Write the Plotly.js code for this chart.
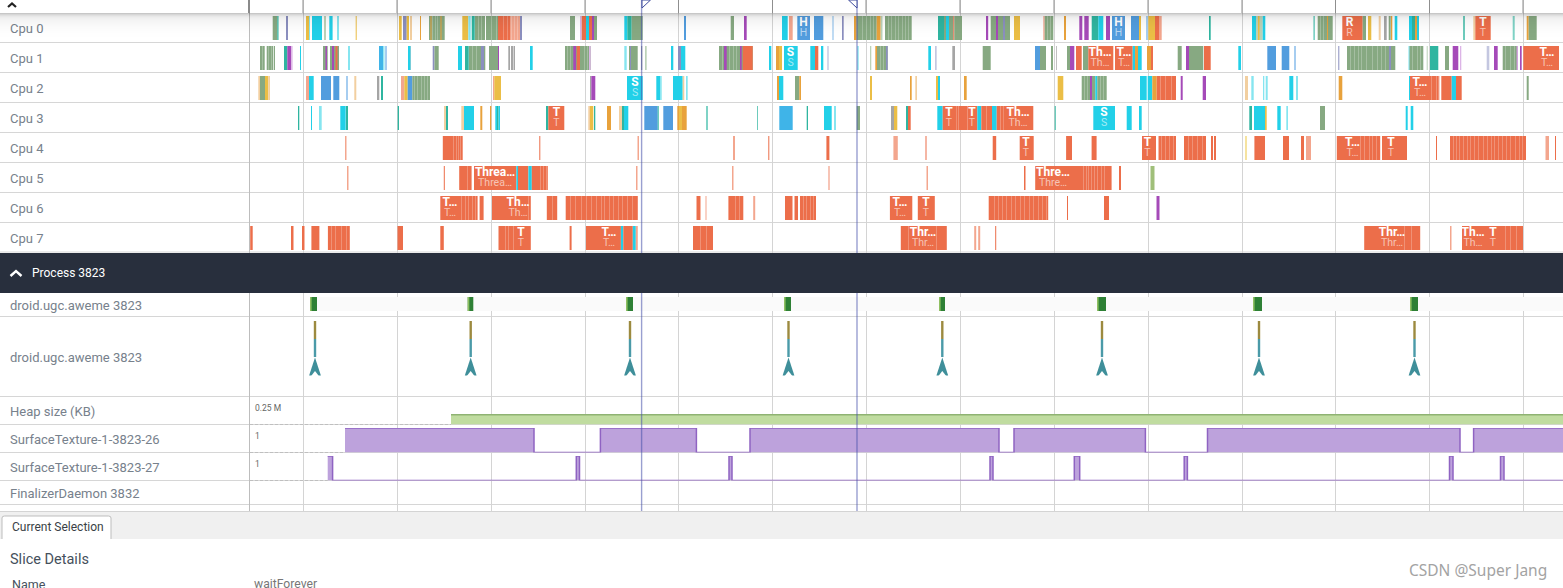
<!DOCTYPE html>
<html><head><meta charset="utf-8">
<script src="https://cdn.plot.ly/plotly-3.0.1.min.js"></script>
<style>html,body{margin:0;padding:0;background:#fff;overflow:hidden}#c{width:1563px;height:588px}</style>
</head><body><div id="c"></div>
<script>
// ---------- data: [start, end, thread kind] per CPU, on the shared time axis
const timeTicks=[303,397,491,585,678.5,772.5,866,960,1054,1148,1242,1335.5,1429.5,1523];
const trackNames=['Cpu 0','Cpu 1','Cpu 2','Cpu 3','Cpu 4','Cpu 5','Cpu 6','Cpu 7','droid.ugc.aweme 3823','droid.ugc.aweme 3823','Heap size (KB)','SurfaceTexture-1-3823-26','SurfaceTexture-1-3823-27','FinalizerDaemon 3832'];
const cpu0=[[272.7,277.3,'g'],[277.3,278.5,'t'],[286,288,'e'],[306,309,'y'],[309,310,'C'],[312,322,'c'],[324,326,'l'],[329.3,332.6,'c'],[337,339,'C'],[355.7,356.7,'y'],[399,401.7,'y'],[403,406.7,'e'],[406.7,409,'y'],[410,412,'O'],[420,421,'o'],[429,444.7,'g'],[430.5,431.5,'o'],[440.5,441.5,'o'],[462.3,468.3,'y'],[468.3,470.7,'C'],[471.7,475,'t'],[475,485,'g'],[486,498,'g'],[498,510,'r'],[510,520,'R'],[520,522,'e'],[570,575,'g'],[580,581.7,'P'],[581.7,586,'r'],[586,589,'c'],[589,592,'r'],[592,594,'p'],[594,597,'g'],[624.3,627.3,'c'],[627.3,631.7,'t'],[631.7,642.7,'g'],[684,686,'b'],[730.7,734,'g'],[744,746.7,'p'],[782,787.7,'c'],[789,792.7,'R'],[797.3,810,'b'],[814,823.3,'b'],[832.3,833.7,'B'],[842,843.7,'e'],[854,856.7,'o'],[856.7,876.7,'g'],[876.7,880.7,'o'],[880.7,882.5,'l'],[885,911.7,'g'],[938,944,'t'],[944,953.3,'g'],[946,949,'c'],[953.3,954.3,'r'],[954.3,962,'g'],[986,988.2,'p'],[990.7,1010,'g'],[996,998,'p'],[1003,1005,'e'],[1014,1020,'y'],[1043.3,1044.7,'R'],[1044.7,1053.3,'g'],[1064,1066,'o'],[1079.3,1082.3,'p'],[1084.3,1088.7,'p'],[1091.7,1098.3,'t'],[1098.3,1103.3,'c'],[1106,1110,'p'],[1112,1125,'b'],[1131,1139,'b'],[1139,1141,'y'],[1146,1148.3,'B'],[1148.3,1155,'y'],[1155,1159,'r'],[1159,1161.7,'R'],[1209,1210.7,'t'],[1252,1256,'c'],[1256,1262.7,'l'],[1258,1259.5,'y'],[1262.7,1265.3,'c'],[1313.3,1315,'T'],[1317.7,1332.7,'g'],[1327,1328,'o'],[1342.3,1362.7,'r'],[1362.7,1366,'g'],[1368,1371.3,'y'],[1378.7,1380.7,'O'],[1384,1386.7,'a'],[1388.7,1390.7,'g'],[1391,1392.3,'o'],[1394.7,1397.3,'c'],[1409,1412,'c'],[1412,1415,'t'],[1415,1417,'o'],[1417,1419,'c'],[1463.3,1464.7,'t'],[1473.3,1475.3,'O'],[1475.3,1490.7,'r'],[1512.7,1514.7,'T'],[1526.7,1528.7,'o'],[1528.7,1536.7,'g']];
const cpu1=[[260,264.7,'g'],[266.7,273.3,'g'],[274,275,'g'],[284,287.3,'t'],[287.3,291.3,'p'],[291.3,292.6,'P'],[300,301,'c'],[323,327.7,'g'],[325.5,327,'p'],[330,339,'g'],[332,334,'p'],[335.5,337.5,'r'],[348,350,'C'],[379,383.3,'s'],[383.3,384.5,'C'],[385,387,'B'],[408,410.7,'c'],[410.7,411,'a'],[432.7,434.5,'e'],[434.5,438.7,'g'],[458,462,'c'],[465,469,'t'],[469,485.3,'g'],[481,484,'e'],[489,499,'g'],[498,499,'p'],[508.3,510,'a'],[511,513,'a'],[513.5,515,'a'],[530,532.7,'c'],[565,590.7,'g'],[573.3,576,'p'],[576.7,580,'r'],[589,590.7,'P'],[624.3,626.7,'C'],[629,637.7,'g'],[630,631,'e'],[641,642.3,'a'],[645,646.7,'l'],[671,673.3,'c'],[678,681,'e'],[681,685.3,'c'],[719,752.7,'g'],[724,726.7,'p'],[740,741.7,'p'],[742.7,752.7,'r'],[769,771.3,'c'],[776,779,'o'],[779,782,'y'],[784,797.7,'c'],[810.3,815,'c'],[815,818.3,'r'],[821,823.3,'c'],[827.3,828.7,'E'],[857.3,858.7,'C'],[870,871.3,'l'],[875.3,877,'o'],[877,887.7,'g'],[886,887.7,'e'],[928.3,931,'c'],[935,936.7,'E'],[952.3,955,'a'],[982.7,990.7,'g'],[1035,1040,'b'],[1040,1046,'g'],[1051,1053,'g'],[1056,1056.7,'a'],[1067,1070,'g'],[1070,1074.3,'p'],[1076,1081.7,'r'],[1083,1088.3,'g'],[1088.3,1113.3,'r'],[1115,1132.7,'r'],[1132.7,1135,'c'],[1135,1138,'o'],[1138,1141.7,'c'],[1147,1151,'o'],[1151,1153,'r'],[1177.7,1181.7,'g'],[1186,1189,'p'],[1189,1203.3,'g'],[1204,1210.7,'r'],[1238.3,1241,'c'],[1267.3,1276,'b'],[1281.7,1289.3,'b'],[1294,1296,'B'],[1338.3,1339.3,'e'],[1347,1395.3,'g'],[1389,1391,'e'],[1408.7,1409.5,'c'],[1409.5,1423.3,'g'],[1426.7,1427.7,'l'],[1430,1438.3,'t'],[1445,1449,'g'],[1452.7,1458.3,'p'],[1460,1461.3,'P'],[1486.7,1489.3,'E'],[1494,1497.7,'p'],[1502.7,1516.7,'g'],[1516.7,1517.5,'p'],[1520,1521.7,'p'],[1523.3,1559,'r']];
const cpu2=[[258.3,260,'O'],[260,265,'g'],[265,268.3,'y'],[268.3,270,'O'],[306,309,'R'],[309,313.7,'c'],[321,331,'b'],[333.3,339.3,'b'],[346,348,'B'],[354.3,356.3,'O'],[377,379.3,'a'],[381,383,'t'],[401,404.3,'R'],[404.3,407.7,'y'],[407.7,412.3,'b'],[412.3,430,'g'],[493,494.3,'R'],[494.3,501,'y'],[590,591.3,'a'],[591.3,595.3,'p'],[627,642.7,'c'],[656.3,660.5,'c'],[660.5,661.7,'C'],[673,682.7,'c'],[682.7,684.3,'O'],[686,687.7,'C'],[777,779,'o'],[779,783.3,'c'],[795,799.3,'g'],[799.3,801,'o'],[870,872,'y'],[910,911.7,'o'],[915.3,917,'O'],[936,938,'y'],[938,940,'c'],[964,966.7,'o'],[1057.7,1063.3,'y'],[1081.7,1090,'g'],[1090,1092,'p'],[1092,1095.3,'g'],[1095.3,1097.3,'c'],[1097.3,1106.7,'g'],[1140,1146.7,'c'],[1147.7,1152.3,'c'],[1152.3,1156.7,'o'],[1156.7,1176,'r'],[1180.7,1182.7,'p'],[1202.7,1206,'p'],[1245,1248,'O'],[1251.3,1253.7,'C'],[1263,1264.3,'C'],[1265.7,1267.7,'C'],[1289.3,1293.3,'c'],[1296,1298,'C'],[1338.7,1342.3,'o'],[1409,1410,'c'],[1410,1439.3,'r'],[1441.3,1451.7,'r'],[1451.7,1456,'c'],[1456,1461.7,'r'],[1526.7,1528.7,'g']];
const cpu3=[[298,299.3,'t'],[311,312,'c'],[319,321.7,'C'],[340.3,345.7,'c'],[346,348,'t'],[397.7,399,'t'],[444,446,'O'],[446,448,'t'],[461.3,464,'O'],[464,474,'c'],[480.3,482.3,'o'],[490,491.3,'o'],[495.3,497,'c'],[497,498.5,'t'],[498.5,500,'c'],[546,548.3,'t'],[548.3,564.3,'r'],[588.3,590,'O'],[590,593.3,'y'],[594,595.3,'t'],[607,611,'o'],[619,622,'O'],[622,624,'t'],[624,628.3,'c'],[644.3,657.7,'b'],[657.7,658.7,'t'],[663.3,673,'b'],[677.3,679,'o'],[679,682,'y'],[682,686.7,'o'],[706,708,'T'],[757.3,758,'t'],[779.3,792.7,'s'],[806.7,808,'t'],[824,831.7,'c'],[834,836,'C'],[856.7,860,'g'],[891,894,'a'],[894,897.3,'y'],[906,908,'t'],[908,910.7,'r'],[937.3,942.7,'c'],[942.7,956.7,'r'],[956.7,966,'r'],[966,977.3,'r'],[977.3,981.3,'c'],[981.3,992,'r'],[992,996.7,'c'],[996.7,1003.3,'r'],[1003.3,1033.3,'r'],[1054.7,1055.7,'t'],[1093.3,1115,'c'],[1126.7,1131.7,'c'],[1139,1141.7,'c'],[1249.3,1252,'t'],[1254,1265,'c'],[1265,1266.7,'y'],[1277.3,1280.7,'c'],[1286.3,1288,'C'],[1320,1325,'g'],[1405.7,1407.7,'c'],[1410.7,1413.3,'c']];
const cpu4=[[345,346.5,'R'],[442.8,462.7,'r'],[539.3,540.3,'r'],[637.5,639,'R'],[733,735,'R'],[768.3,769.3,'r'],[826.4,829.4,'r'],[893.4,897.8,'R'],[925.5,926.5,'r'],[992.7,996.2,'r'],[1019.7,1033.7,'r'],[1066.1,1072,'r'],[1091.6,1096.6,'r'],[1142,1156,'r'],[1158.5,1176,'r'],[1184,1206,'r'],[1211,1213,'r'],[1214,1216,'r'],[1245,1247,'Y'],[1254.4,1265,'r'],[1283,1289,'r'],[1301,1304,'r'],[1306,1311,'R'],[1336.8,1380.2,'r'],[1382,1407,'r'],[1436,1437,'r'],[1450,1526,'r'],[1545.5,1549,'R'],[1555,1556,'r']];
const cpu5=[[347,348.5,'R'],[443.8,444.8,'r'],[459.2,471.6,'r'],[474,516.4,'r'],[516.4,518,'c'],[518,528.4,'r'],[528.4,531.8,'c'],[531.8,547.8,'r'],[636,637.5,'R'],[732,733.5,'R'],[828.6,829.4,'r'],[926.5,928,'R'],[1024,1025.5,'r'],[1035.2,1111.6,'r'],[1119,1121,'r'],[1150.5,1154.5,'m']];
const cpu6=[[440.3,477.6,'r'],[479.6,483.6,'r'],[492,530.8,'r'],[546.8,557.2,'r'],[565.7,637.8,'r'],[696.5,700.5,'r'],[705.5,706.5,'R'],[728.4,743.3,'r'],[753.2,755.2,'R'],[785,792.5,'r'],[794.5,798,'r'],[800,816,'r'],[889.9,912.3,'r'],[917.8,934.8,'r'],[988.7,1048.2,'r'],[1067,1068,'r'],[1104,1109,'r'],[1156.5,1159.5,'p']];
const cpu7=[[250.2,252.7,'r'],[291,293.5,'r'],[302,304.5,'r'],[311.4,319.4,'r'],[327.9,349.8,'r'],[397.5,403,'r'],[440.3,443.8,'r'],[498.5,530.8,'r'],[569.6,571.6,'r'],[586,620.9,'r'],[620.9,623.3,'c'],[623.3,632.8,'r'],[632.8,635.8,'c'],[635.8,637.8,'R'],[693,713,'r'],[900.8,946.8,'r'],[974.2,976.2,'R'],[978.2,980.2,'R'],[995.2,996.2,'r'],[1364.2,1420.2,'r'],[1450,1451.5,'R'],[1462,1523,'r']];
// pale hairlines inside the long slices
const cpu0Pale=[432,435,437,446,474,478,481,491,496,503,507,511,514,517,862,866,870,873,888,891,895,898,902,905,908,1047,1050,1320,1323];
const cpu1Pale=[262,268,271,468,472,476,567,570,584,587,722,729,733,736,880,883,1350,1354,1358,1361,1366,1372,1377,1381,1385,1412,1417,1420,1505,1510,1514];
const cpu2Pale=[414,417,421,424,427,1084,1087,1100,1103,1160,1165,1171,1431,1436,1438];
const cpu3Pale=[958,967,986,1000];
const cpu4Pale=[453,456,458,460,1161,1165,1169,1173,1188,1192,1197,1202,1360,1364,1369,1372,1376,1453,1456,1459,1463,1467,1470,1474,1478,1483,1487,1491,1494,1498,1502,1506,1510,1515,1519,1522];
const cpu5Pale=[467,540,543,546,1083,1086,1088,1091,1094,1097,1101,1104];
const cpu6Pale=[461,465,468,472,475,528,552,570,575,581,586,591,596,601,604,609,613,618,622,627,632,735,739,803,806,810,813,994,998,1002,1006,1011,1015,1020,1024,1029,1033,1038,1042,1046];
const cpu7Pale=[331,335,341,346,505,508,513,700,706,908,936,1404,1411,1505,1510,1516];
// slice captions: [time, title]
const cpuLabels=[[[803.5,'H'],[1118.5,'H'],[1349.5,'R'],[1483,'T']],[[790.5,'S'],[1100,'Th…'],[1124,'T…'],[1547,'T…']],[[635,'S'],[1420,'T…']],[[556.5,'T'],[949,'T'],[972,'T'],[1018,'Th…'],[1104,'S']],[[1026,'T'],[1147.5,'T'],[1352.5,'T…'],[1391,'T']],[[495,'Threa…'],[1053,'Thre…']],[[450,'T…'],[518,'Th…'],[900,'T…'],[926,'T']],[[521,'T'],[609,'T…'],[923,'Thr…'],[1392,'Thr…'],[1473,'Th…'],[1493,'T']]];
const frameStart=[310,467.7,626,784,939,1097,1253,1410];
const frameEnd=[317,473.3,633,791,945,1106,1262,1418];
const arrowTime=[315,470.7,630,788.5,942.3,1102,1259,1414.5];
const heapX=[451,1563], heapKB=[102000,102000];
const surf26X=[345,534,600.4,696.4,750,999,1014,1145.4,1207.5,1460,1473.6,1563];
const surf26V=[1,0,1,0,1,0,1,0,1,0,1,1];
const surf27X=[327.7,332.6,576.3,579.5,729,732,990,993,1074.3,1079.7,1184.2,1187.4,1449.5,1453,1500.5,1504,1563];
const surf27V=[1,0,1,0,1,0,1,0,1,0,1,0,1,0,1,0,0];

// ---------- styles
const kindColor={g:'#87a982',c:'#22d0e8',C:'#86e5f0',r:'#ec6e4a',R:'#f3a68e',y:'#ebbe46',Y:'#f6e3a0',o:'#e8a23c',O:'#f2cfa0',b:'#529dde',B:'#a6cdf0',p:'#a54ab8',P:'#dcb4e6',t:'#2fb5a0',T:'#7fd3c6',e:'#8b8fbf',E:'#c4c7e0',a:'#a5a5a5',l:'#bcd2b8',m:'#a0bf7a',s:'#3fb4e8'};
const W=1563,H=588,FONT='Roboto,sans-serif';
const rowCenter=[28,58,88,118,148,178,208,238];
const dom=(t,b)=>[1-b/H,1-t/H];
const traces=[];
[cpu0,cpu1,cpu2,cpu3,cpu4,cpu5,cpu6,cpu7].forEach((s,i)=>{
  traces.push({type:'bar',orientation:'h',base:s.map(d=>d[0]),x:s.map(d=>d[1]-d[0]),y:s.map(()=>rowCenter[i]),width:24,
    marker:{color:s.map(d=>kindColor[d[2]]),line:{width:0}},hoverinfo:'skip'});
});
[cpu0Pale,cpu1Pale,cpu2Pale,cpu3Pale,cpu4Pale,cpu5Pale,cpu6Pale,cpu7Pale].forEach((p,i)=>{
  traces.push({type:'bar',orientation:'h',base:p,x:p.map(()=>0.9),y:p.map(()=>rowCenter[i]),width:24,marker:{color:'rgba(255,255,255,0.28)',line:{width:0}},hoverinfo:'skip'});
});
cpuLabels.forEach((l,i)=>{
  traces.push({type:'scatter',mode:'text',x:l.map(d=>d[0]),y:l.map(()=>rowCenter[i]-5),text:l.map(d=>d[1]),textposition:'middle center',textfont:{family:FONT,size:12,color:'#fff',weight:700},hoverinfo:'skip'});
  traces.push({type:'scatter',mode:'text',x:l.map(d=>d[0]),y:l.map(()=>rowCenter[i]+5.5),text:l.map(d=>d[1]),textposition:'middle center',textfont:{family:FONT,size:10.5,color:'rgba(255,255,255,0.6)'},hoverinfo:'skip'});
});
// process slice track
traces.push({type:'bar',orientation:'h',base:[310],x:[W-310],y:[304],width:14,marker:{color:'#fafafa',line:{width:0}},hoverinfo:'skip'});
traces.push({type:'bar',orientation:'h',base:frameStart,x:frameEnd.map((e,i)=>e-frameStart[i]),y:frameStart.map(()=>304),width:14,marker:{color:'#2e8035',line:{width:0}},hoverinfo:'skip'});
traces.push({type:'bar',orientation:'h',base:frameStart,x:frameStart.map(()=>1.6),y:frameStart.map(()=>304),width:14,marker:{color:'#8fbf62',line:{width:0}},hoverinfo:'skip'});
traces.push({type:'bar',orientation:'h',base:arrowTime.map(a=>a-1.2),x:arrowTime.map(()=>2.4),y:arrowTime.map(()=>330),width:18,marker:{color:'#9c8a3f',line:{width:0}},hoverinfo:'skip'});
traces.push({type:'bar',orientation:'h',base:arrowTime.map(a=>a-1.2),x:arrowTime.map(()=>2.4),y:arrowTime.map(()=>348),width:18,marker:{color:'#4a9aa8',line:{width:0}},hoverinfo:'skip'});
traces.push({type:'scatter',mode:'markers',x:arrowTime,y:arrowTime.map(()=>357.5),marker:{symbol:'arrow',size:19,color:'#3f8f9a',line:{width:0}},hoverinfo:'skip',cliponaxis:false});
traces.push({type:'scatter',mode:'markers',x:arrowTime,y:arrowTime.map(()=>375.5),marker:{symbol:'triangle-up',size:9,color:'#fff',line:{width:0}},hoverinfo:'skip',cliponaxis:false});
// counters
function counter(ax,x,y,fill,line,start){
  traces.push({type:'scatter',mode:'lines',x:[250,start],y:[0,0],yaxis:ax,line:{color:'#a8a8a8',width:1,dash:'3px,2px'},hoverinfo:'skip',cliponaxis:false});
  traces.push({type:'scatter',mode:'lines',x,y,yaxis:ax,line:{shape:'hv',color:line,width:1.5},fill:'tozeroy',fillcolor:fill,hoverinfo:'skip',cliponaxis:false});
}
counter('y2',heapX,heapKB,'#c0dca0','#8fb373',451);
counter('y3',surf26X,surf26V,'#bda2dc','#8f63c2',345);
counter('y4',surf27X,surf27V,'#bda2dc','#8f63c2',327.7);

// ---------- chrome
const shapes=[];
const rect=(x0,x1,y0,y1,fill,layer)=>shapes.push({type:'rect',xref:'x',yref:'y',x0,x1,y0,y1,fillcolor:fill,line:{width:0},layer:layer||'above'});
const hl=(y)=>shapes.push({type:'line',xref:'x',yref:'y',x0:0,x1:W,y0:y,y1:y,line:{color:'#d6d6d6',width:1},layer:'below'});
[42.5,72.5,102.5,132.5,162.5,192.5,222.5,252,316.5,396.5,424.5,452.5,480.5,504.5].forEach(hl);
[641.6,857].forEach(x=>shapes.push({type:'line',xref:'x',yref:'y',x0:x,x1:x,y0:0,y1:512,line:{color:'rgba(70,80,170,0.55)',width:1.4},layer:'above'}));
shapes.push({type:'line',xref:'x',yref:'y',x0:249.5,x1:249.5,y0:0,y1:512,line:{color:'#bdbdbd',width:1},layer:'below'});
// header shadow
[.22,.16,.12,.09,.07,.06,.05,.045,.04,.035,.03,.026,.023,.02,.017,.015,.012,.01,.008,.006,.005,.004,.003,.002].forEach((a,i)=>rect(0,W,13+i,14+i,`rgba(0,0,0,${a})`));
timeTicks.forEach(x=>shapes.push({type:'line',xref:'x',yref:'y',x0:x,x1:x,y0:0,y1:13,line:{color:'#8f8f8f',width:1},layer:'above'}));
shapes.push({type:'line',xref:'x',yref:'y',x0:249,x1:249,y0:0,y1:13,line:{color:'#8a8a8a',width:2},layer:'above'});
// time-span flags
shapes.push({type:'path',xref:'x',yref:'y',path:'M642,8 L650.5,0 L642,0 Z',fillcolor:'#fff',line:{color:'#3c4a9c',width:1},layer:'above'});
shapes.push({type:'path',xref:'x',yref:'y',path:'M857,8 L848.5,0 L857,0 Z',fillcolor:'#fff',line:{color:'#3c4a9c',width:1},layer:'above'});
// process header and lower panel
rect(0,W,253,293,'#282f3d');
rect(0,W,512,539,'#f0f0f0');
rect(0,W,539,H,'#fff');
shapes.push({type:'line',xref:'x',yref:'y',x0:0,x1:W,y0:511.5,y1:511.5,line:{color:'#d4d4d4',width:1},layer:'above'});
shapes.push({type:'path',xref:'x',yref:'y',path:'M2,539 L2,518 Q2,516 4.5,516 L108.5,516 Q111,516 111,518 L111,539',fillcolor:'#fff',line:{color:'#bdbdbd',width:1},layer:'above'});
shapes.push({type:'path',xref:'x',yref:'y',path:'M8,7 L12,3.5 L16,7',line:{color:'#222',width:2.2},layer:'above'});
shapes.push({type:'path',xref:'x',yref:'y',path:'M10.5,276 L16,271 L21.5,276',line:{color:'#fff',width:2.4},layer:'above'});

const note=(x,y,text,size,color,family)=>({xref:'x',yref:'y',x,y,text,showarrow:false,xanchor:'left',yanchor:'middle',font:{family:family||FONT,size,color}});
const annotations=[
  note(29.5,273,'Process 3823',12,'#fff'),
  note(253,408,'0.25 M',8.5,'#666'),
  note(253,435.5,'1',8.5,'#666'),
  note(253,463.5,'1',8.5,'#666'),
  note(10,527,'Current Selection',12,'#3a3f46'),
  note(8,559,'Slice Details',14.5,'#45505c'),
  note(10,584,'Name',12.5,'#45505c'),
  note(252,584,'waitForever',12.2,'#777'),
  note(1407,570,'CSDN @Super Jang',15.5,'#a3a3a3','"Noto Sans",sans-serif')
];
const hidden=d=>({domain:d,anchor:'x',visible:false,fixedrange:true});
const layout={width:W,height:H,margin:{l:0,r:0,t:0,b:0,pad:0},paper_bgcolor:'#fff',plot_bgcolor:'rgba(0,0,0,0)',showlegend:false,barmode:'overlay',
  xaxis:{range:[0,W],domain:[0,1],tickmode:'array',tickvals:timeTicks,showticklabels:false,ticks:'',showgrid:true,gridcolor:'#d4d4d4',gridwidth:1,zeroline:false,showline:false,fixedrange:true},
  yaxis:{range:[H,0],domain:[0,1],tickmode:'array',tickvals:[28,58,88,118,148,178,208,238,305,357,411,439,467,493],ticktext:trackNames,ticklabelposition:'inside',ticklabelstandoff:7,ticks:'',showgrid:false,zeroline:false,showline:false,tickfont:{family:FONT,size:13,color:'#77818c'},fixedrange:true},
  yaxis2:Object.assign(hidden(dom(400.5,424.5)),{range:[0,250000]}),
  yaxis3:Object.assign(hidden(dom(428,452.5)),{range:[0,1]}),
  yaxis4:Object.assign(hidden(dom(456,480.5)),{range:[0,1]}),
  shapes,annotations};
Plotly.newPlot('c',traces,layout,{displayModeBar:false,staticPlot:true});
</script></body></html>
